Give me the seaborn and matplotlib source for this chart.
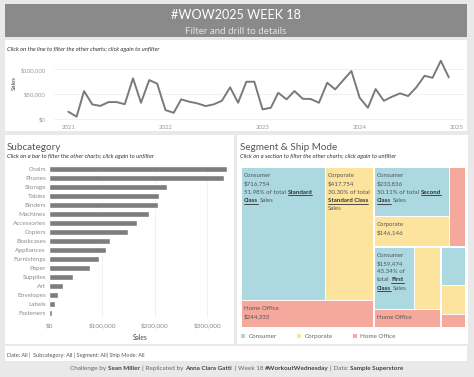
import matplotlib
matplotlib.use('Agg')
import matplotlib.pyplot as plt
import matplotlib.dates as mdates
from matplotlib.patches import Rectangle
from matplotlib.lines import Line2D
from matplotlib.transforms import IdentityTransform
from matplotlib.ticker import FuncFormatter
import seaborn as sns
import pandas as pd

# Дані
months = pd.date_range('2021-01-01', periods=48, freq='MS')
monthly_sales = [
    14200, 4300, 56000, 29000, 26000, 33800, 33800, 29500, 81800, 32400, 78300, 71000,
    17600, 12100, 39300, 34400, 31200, 25700, 29100, 36400, 63600, 32400, 74900, 74900,
    19000, 22300, 52600, 39300, 56100, 40500, 39900, 32400, 72900, 59500, 78500, 96600,
    42500, 22300, 60100, 36400, 44500, 51400, 46000, 63600, 87000, 83000, 117400, 83800,
]

subcategories = ['Chairs', 'Phones', 'Storage', 'Tables', 'Binders', 'Machines', 'Accessories',
                 'Copiers', 'Bookcases', 'Appliances', 'Furnishings', 'Paper', 'Supplies', 'Art',
                 'Envelopes', 'Labels', 'Fasteners']
subcat_sales = [336700, 332300, 224000, 207600, 207000, 189900, 167000, 150000, 115200,
                108200, 94300, 77800, 45600, 26000, 15800, 11400, 5000]

ship_modes = ['Standard Class', 'Second Class', 'First Class', 'Same Day']
segments = ['Consumer', 'Corporate', 'Home Office']
standard_sales = [716754, 417754, 244333]
second_sales = [233836, 146146, 86663]
first_sales = [159474, 110000, 82256]
same_day_sales = [60500, 46800, 22700]
segment_colors = ['#abd8e1', '#fde49e', '#f4a99c']

W, H = 474, 377
BG = '#e9e9e9'

sns.set_theme(style='white')
plt.rcParams['font.family'] = ['Lato', 'DejaVu Sans']

fig = plt.figure(figsize=(W / 100, H / 100), dpi=100)
fig.patch.set_facecolor(BG)
renderer = fig.canvas.get_renderer()


def box(x, y, w, h):
    # пікселі від верхнього лівого кута -> частки фігури
    return [x / W, 1 - (y + h) / H, w / W, h / H]


def panel(x, y, w, h, color='white'):
    fig.add_artist(Rectangle((x / W, 1 - (y + h) / H), w / W, h / H,
                             transform=fig.transFigure, facecolor=color, edgecolor='none', zorder=0))


def ftext(x, y, s, **kw):
    return fig.text(x / W, 1 - y / H, s, **kw)


def text_width(s, size, weight='normal'):
    t = fig.text(0, 0, s, fontsize=size, fontweight=weight)
    w = t.get_window_extent(renderer).width
    t.remove()
    return w


def draw_rich(x, y, parts, size, ha='left', underline=False, color='#555555', bold_color='#333333'):
    space = text_width('a a', size) - text_width('aa', size)
    widths = [text_width(s, size, 'bold' if b else 'normal') for s, b in parts]
    total = sum(widths) + space * (len(parts) - 1)
    cx = x - total / 2 if ha == 'center' else x
    yd = H - y
    for (s, b), w in zip(parts, widths):
        fig.text(cx, yd, s, transform=IdentityTransform(), fontsize=size,
                 fontweight='bold' if b else 'normal', color=bold_color if b else color,
                 va='baseline', ha='left')
        if b and underline:
            fig.add_artist(Line2D([cx, cx + w], [yd - 1.3, yd - 1.3], transform=IdentityTransform(),
                                  color=bold_color, lw=0.6))
        cx += w + space


# Фон панелей
panel(5, 4, 462, 33, '#8a8a8a')
panel(5, 40, 462, 91)
panel(5, 135, 229, 209)
panel(237, 135, 231, 209)
panel(5, 346, 462, 15)

ftext(236, 19.3, '#WOW2025 WEEK 18', fontsize=9.1, color='white', ha='center', va='baseline')
ftext(236, 33.7, 'Filter and drill to details', fontsize=7, color='#e2e2e2', ha='center', va='baseline')

# 1. Лінія продажів
ax1 = fig.add_axes(box(54, 56, 411, 65))
sns.lineplot(x=months, y=monthly_sales, color='#7a7a7a', linewidth=1.4, ax=ax1)
ax1.set_xlim(pd.Timestamp('2020-11-08'), pd.Timestamp('2025-01-31'))
ax1.set_ylim(-4500, 127000)
ax1.set_yticks([0, 50000, 100000])
ax1.yaxis.set_major_formatter(FuncFormatter(lambda v, p: f'${v:,.0f}'))
ax1.xaxis.set_major_locator(mdates.YearLocator())
ax1.xaxis.set_major_formatter(mdates.DateFormatter('%Y'))
ax1.tick_params(axis='both', labelsize=4.3, colors='#9a9a9a', length=0)
ax1.tick_params(axis='y', pad=6)
ax1.tick_params(axis='x', pad=3)
ax1.grid(axis='y', color='#efefef', lw=0.6)
ax1.set_xlabel('')
ax1.set_ylabel('')
ax1.set_facecolor('none')
for sp in ax1.spines.values():
    sp.set_visible(False)
ftext(14, 83, 'Sales', fontsize=4.5, color='#444444', rotation=90, ha='center', va='center')
ftext(7, 51, 'Click on the line to filter the other charts; click again to unfilter',
      fontsize=4.2, style='italic', color='#333333', va='baseline')

# 2. Підкатегорії
ftext(7, 150, 'Subcategory', fontsize=7.1, color='#555555', va='baseline')
ftext(7, 158, 'Click on a bar to filter the other charts; click again to unfilter',
      fontsize=4.2, style='italic', color='#333333', va='baseline')
ax2 = fig.add_axes(box(49.3, 164.8, 182.4, 153))
sns.barplot(x=subcat_sales, y=subcategories, orient='h', color='#7d7d7d', saturation=1,
            width=0.63, ax=ax2)
ax2.set_xlim(0, 346000)
ax2.set_xticks([0, 100000, 200000, 300000])
ax2.xaxis.set_major_formatter(FuncFormatter(lambda v, p: f'${v:,.0f}'))
ax2.tick_params(axis='both', labelsize=4.6, colors='#8a8a8a', length=0)
ax2.tick_params(axis='y', pad=2.4)
ax2.tick_params(axis='x', pad=3.4)
ax2.grid(axis='x', color='#efefef', lw=0.6)
ax2.set_axisbelow(True)
ax2.set_ylabel('')
ax2.set_xlabel('Sales', fontsize=4.8, color='#444444', labelpad=4)
ax2.set_facecolor('none')
for sp in ax2.spines.values():
    sp.set_visible(False)

# 3. Treemap: Ship Mode -> Segment
ftext(240, 150, 'Segment & Ship Mode', fontsize=7.1, color='#555555', va='baseline')
ftext(240, 158, 'Click on a section to filter the other charts; click again to unfilter',
      fontsize=4.2, style='italic', color='#333333', va='baseline')

TX, TY, TW, TH = 241, 167.3, 224.7, 161
ax3 = fig.add_axes(box(TX, TY, TW, TH))
ax3.set_xlim(0, TW)
ax3.set_ylim(TH, 0)
ax3.axis('off')


def strip(x, y, w, h, vals, from_end):
    # по одному елементу відрізаємо смугу вздовж коротшої сторони
    rects = [None] * len(vals)
    order = list(range(len(vals)))
    if from_end:
        order = order[::-1]
    rest = float(sum(vals))
    for k, i in enumerate(order):
        if k == len(order) - 1:
            rects[i] = (x, y, w, h)
            break
        f = vals[i] / rest
        if w >= h:
            ww = w * f
            if from_end:
                rects[i] = (x + w - ww, y, ww, h)
            else:
                rects[i] = (x, y, ww, h)
                x += ww
            w -= ww
        else:
            hh = h * f
            if from_end:
                rects[i] = (x, y + h - hh, w, hh)
            else:
                rects[i] = (x, y, w, hh)
                y += hh
            h -= hh
        rest -= vals[i]
    return rects


mode_values = [standard_sales, second_sales, first_sales, same_day_sales]
mode_rects = strip(0, 0, TW, TH, [sum(v) for v in mode_values], from_end=False)
cells = {}
for mode, vals, (mx, my, mw, mh) in zip(ship_modes, mode_values, mode_rects):
    for seg, col, r in zip(segments, segment_colors, strip(mx, my, mw, mh, vals, from_end=True)):
        ax3.add_patch(Rectangle((r[0], r[1]), r[2], r[3], facecolor=col, edgecolor='white', lw=0.6))
        cells[(mode, seg)] = r
    ax3.add_patch(Rectangle((mx, my), mw, mh, facecolor='none', edgecolor='white', lw=1.4))


def pct(vals, i):
    return f'{vals[i] / sum(vals) * 100:.2f}%'


def money(v):
    return f'${v:,.0f}'


N, B = False, True
labels = {
    ('Standard Class', 'Consumer'): [[('Consumer', N)], [(money(standard_sales[0]), N)],
                                     [(pct(standard_sales, 0) + ' of total', N), ('Standard', B)],
                                     [('Class', B), ('Sales', N)]],
    ('Standard Class', 'Corporate'): [[('Corporate', N)], [(money(standard_sales[1]), N)],
                                      [(pct(standard_sales, 1) + ' of total', N)],
                                      [('Standard Class', B)], [('Sales', N)]],
    ('Standard Class', 'Home Office'): [[('Home Office', N)], [(money(standard_sales[2]), N)]],
    ('Second Class', 'Consumer'): [[('Consumer', N)], [(money(second_sales[0]), N)],
                                   [(pct(second_sales, 0) + ' of total', N), ('Second', B)],
                                   [('Class', B), ('Sales', N)]],
    ('Second Class', 'Corporate'): [[('Corporate', N)], [(money(second_sales[1]), N)]],
    ('First Class', 'Consumer'): [[('Consumer', N)], [(money(first_sales[0]), N)],
                                  [(pct(first_sales, 0) + ' of', N)],
                                  [('total', N), ('First', B)], [('Class', B), ('Sales', N)]],
    ('First Class', 'Home Office'): [[('Home Office', N)]],
}
for key, lines in labels.items():
    cx, cy, cw, ch = cells[key]
    for j, parts in enumerate(lines):
        draw_rich(TX + cx + 3, TY + cy + 10 + j * 8.3, parts, 4.4, underline=True)

# Легенда
for k, (seg, col) in enumerate(zip(segments, segment_colors)):
    lx = 241 + k * 56
    fig.add_artist(Rectangle((lx / W, 1 - 338 / H), 4 / W, 4 / H, transform=fig.transFigure,
                             facecolor=col, edgecolor='none'))
    ftext(lx + 7.5, 337.8, seg, fontsize=4.5, color='#666666', va='baseline')

# Фільтри та підпис
ftext(7, 356.5, 'Date: All |  Subcategory: All | Segment: All| Ship Mode: All',
      fontsize=4, color='#555555', va='baseline')
draw_rich(237, 370, [('Challenge by', N), ('Sean Miller', B), ('| Replicated by', N),
                     ('Anna Clara Gatti', B), (' | Week 18', N), ('#WorkoutWednesday', B),
                     ('| Data:', N), ('Sample Superstore', B)],
          4.6, ha='center', color='#666666', bold_color='#444444')

fig.savefig('out.png', dpi=100, facecolor=BG)
